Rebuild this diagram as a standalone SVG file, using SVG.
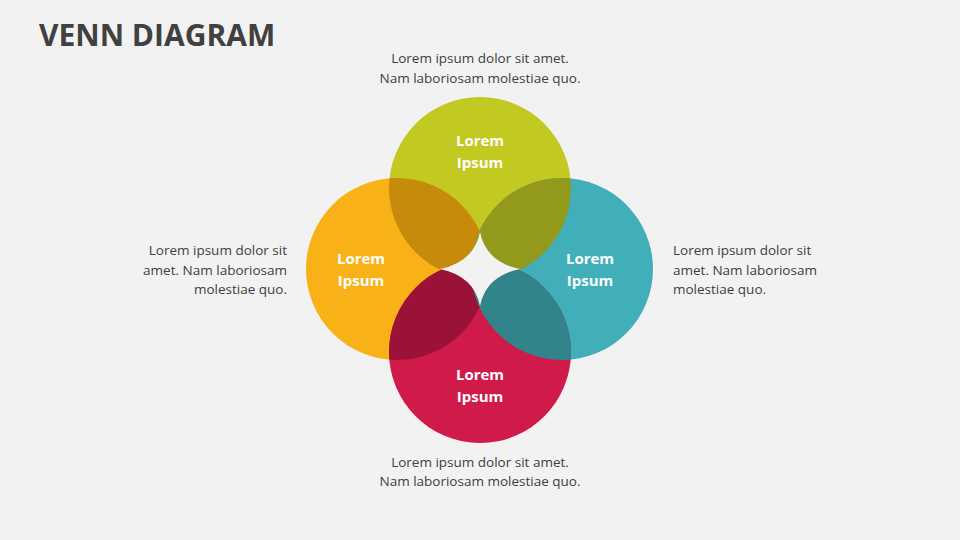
<svg xmlns="http://www.w3.org/2000/svg" width="960" height="540" viewBox="0 0 960 540">
<style>
.t{font-family:"Open Sans","Liberation Sans",sans-serif;font-size:13.5px;fill:#404040}
.l{font-family:"Open Sans","Liberation Sans",sans-serif;font-size:15px;font-weight:bold;fill:#fff;text-anchor:middle}
</style>
<defs>
<clipPath id="cT"><circle cx="480" cy="188" r="91"/></clipPath>
<clipPath id="cB"><circle cx="480" cy="352" r="91"/></clipPath>
</defs>
<rect width="960" height="540" fill="#F2F2F2"/>
<text x="39" y="46" font-family="'Open Sans','Liberation Sans',sans-serif" font-size="30" font-weight="bold" fill="#404040">VENN DIAGRAM</text>
<g id="top"><circle cx="480" cy="188" r="91" fill="#C2C920"/></g>
<g id="left"><circle cx="397" cy="269" r="91" fill="#F9B118"/></g>
<g id="right"><circle cx="562" cy="269" r="91" fill="#40AFBA"/></g>
<g id="bottom"><circle cx="480" cy="352" r="91" fill="#CF1A4A"/></g>
<g id="overlaps">
<circle cx="397" cy="269" r="91" fill="#C68B0A" clip-path="url(#cT)"/>
<circle cx="562" cy="269" r="91" fill="#93991A" clip-path="url(#cT)"/>
<circle cx="397" cy="269" r="91" fill="#9B1239" clip-path="url(#cB)"/>
<circle cx="562" cy="269" r="91" fill="#30848A" clip-path="url(#cB)"/>
<path d="M440 269 Q474 262 480 232 Q486 262 520 269 Q486 276 480 306 Q474 276 440 269Z" fill="#F2F2F2"/>
</g>
<text class="l" x="480" y="146">Lorem</text><text class="l" x="480" y="168">Ipsum</text>
<text class="l" x="361" y="264">Lorem</text><text class="l" x="361" y="286">Ipsum</text>
<text class="l" x="590" y="264">Lorem</text><text class="l" x="590" y="286">Ipsum</text>
<text class="l" x="480" y="380">Lorem</text><text class="l" x="480" y="402">Ipsum</text>
<text class="t" text-anchor="middle" x="480" y="63">Lorem ipsum dolor sit amet.</text>
<text class="t" text-anchor="middle" x="480" y="83">Nam laboriosam molestiae quo.</text>
<text class="t" text-anchor="middle" x="480" y="467">Lorem ipsum dolor sit amet.</text>
<text class="t" text-anchor="middle" x="480" y="486">Nam laboriosam molestiae quo.</text>
<text class="t" text-anchor="end" x="287" y="255">Lorem ipsum dolor sit</text>
<text class="t" text-anchor="end" x="287" y="275">amet. Nam laboriosam</text>
<text class="t" text-anchor="end" x="287" y="294">molestiae quo.</text>
<text class="t" x="673" y="255">Lorem ipsum dolor sit</text>
<text class="t" x="673" y="275">amet. Nam laboriosam</text>
<text class="t" x="673" y="294">molestiae quo.</text>
</svg>
